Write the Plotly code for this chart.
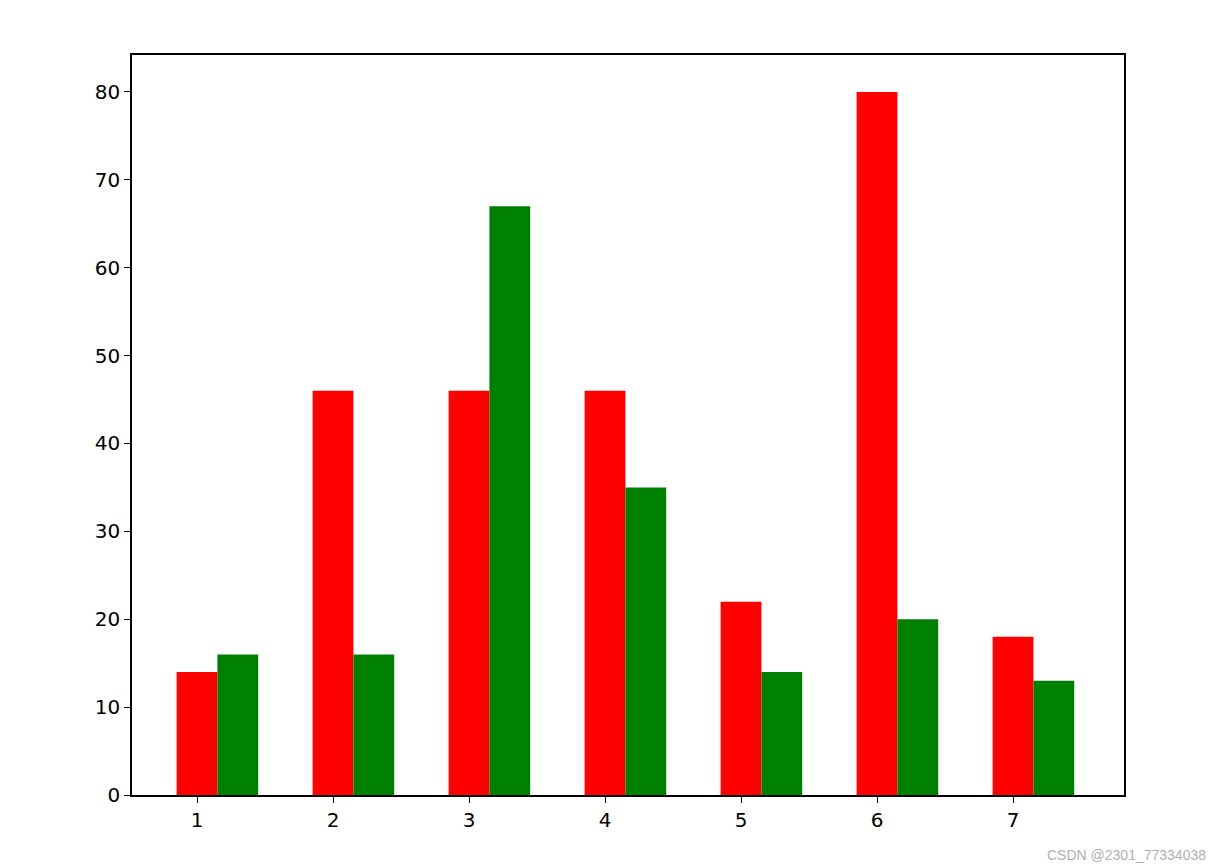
import plotly.graph_objects as go

categories = [1, 2, 3, 4, 5, 6, 7]
red_values = [14, 46, 46, 46, 22, 80, 18]
green_values = [16, 16, 67, 35, 14, 20, 13]
bar_width = 0.3

fig = go.Figure()
fig.add_trace(go.Bar(x=categories, y=red_values, width=bar_width,
                     marker_color="#ff0000", marker_line_width=0))
fig.add_trace(go.Bar(x=[c + bar_width for c in categories], y=green_values,
                     width=bar_width, marker_color="#008000", marker_line_width=0))

axis_style = dict(showline=True, linecolor="black", linewidth=1.5, mirror=True,
                  ticks="outside", ticklen=6, tickcolor="black", showgrid=False,
                  zeroline=False)
fig.update_xaxes(range=[0.522, 7.816], tickvals=categories, **axis_style)
fig.update_yaxes(range=[0, 84.2], tickvals=list(range(0, 81, 10)), **axis_style)

fig.update_layout(
    barmode="overlay",
    showlegend=False,
    width=1214,
    height=867,
    margin=dict(l=124, r=98, t=47, b=80),
    plot_bgcolor="white",
    paper_bgcolor="white",
    font=dict(family="DejaVu Sans", size=20, color="black"),
    annotations=[dict(
        x=1, xref="paper", xanchor="right", xshift=84,
        y=0, yref="paper", yanchor="top", yshift=-50,
        text="CSDN @2301_77334038", showarrow=False,
        font=dict(size=14, color="#b0b0b0", family="Liberation Sans"),
    )],
)

fig.write_html("out.html")
